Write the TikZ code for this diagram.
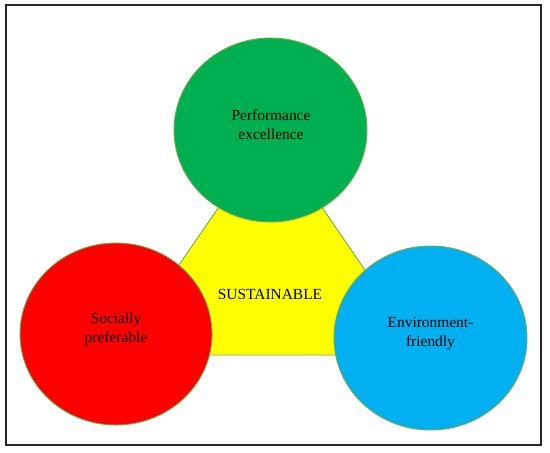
\documentclass[tikz,border=0pt]{standalone}
\usepackage{fontspec}
\setmainfont{Liberation Serif}
\usetikzlibrary{shapes.geometric}
\definecolor{cgreen}{HTML}{00B050}
\definecolor{cred}{HTML}{FF0000}
\definecolor{cblue}{HTML}{00B0F0}
\definecolor{cyellow}{HTML}{FFFF00}
\definecolor{edgegreen}{HTML}{70AD47}
\tikzset{
  bubble/.style={ellipse, draw=edgegreen, line width=0.9bp, inner sep=0pt,
    minimum width=193bp, minimum height=184bp},
  label/.style={font=\fontsize{15.5}{19}\selectfont, align=center, inner sep=0pt, text=black},
}
\begin{document}
\begin{tikzpicture}[x=1bp,y=-1bp]
\useasboundingbox (0,0) rectangle (550,453);
\fill[white] (0,0) rectangle (550,453);
\draw[line width=2bp, draw=black!85] (6,5) rectangle (541,445);
\coordinate (ta) at (270.5,132);
\coordinate (tb) at (117,355);
\coordinate (tc) at (423,355);
\filldraw[fill=cyellow, draw=edgegreen, line width=0.9bp] (ta) -- (tb) -- (tc) -- cycle;
\node[bubble, fill=cgreen] (perf) at (270.5,130) {};
\node[bubble, fill=cred, minimum width=192bp, minimum height=182bp] (soc) at (116,334) {};
\node[bubble, fill=cblue] (env) at (430.5,338) {};
\node[label] (perft) at (271,124.2) {Performance\\excellence};
\node[label] (sust) at (270,294.9) {SUSTAINABLE};
\node[label] (soct) at (116,328.9) {Socially\\preferable};
\node[label] (envt) at (430.5,334) {Environment-\\friendly};
\end{tikzpicture}
\end{document}
